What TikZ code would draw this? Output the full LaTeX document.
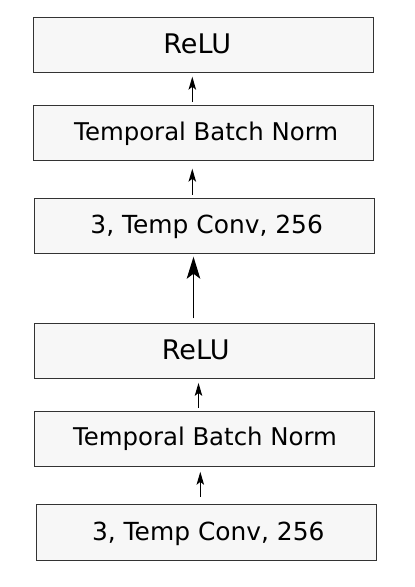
\documentclass[tikz,border=0pt]{standalone}
\usepackage{fontspec}
\setmainfont{DejaVu Sans}
\usetikzlibrary{arrows.meta}
\tikzset{
  layerbox/.style={draw=black!80, fill=black!3, line width=1pt},
  boxnode/.style={inner sep=0pt},
  lbl/.style={anchor=base, inner sep=0pt},
  smallarr/.style={line width=1pt, -{Stealth[length=13pt,width=7.5pt,inset=3pt]}},
  bigarr/.style={line width=1.3pt, -{Stealth[length=22pt,width=13.5pt,inset=5pt]}},
}
\begin{document}
\begin{tikzpicture}[x=1pt,y=-1pt]
\useasboundingbox (0,0) rectangle (415,587);
% boxes
\node[boxnode, minimum width=340pt, minimum height=54.3pt] (b1) at (203.3,44.85) {};
\node[boxnode, minimum width=340pt, minimum height=54.7pt] (b2) at (203.3,132.65) {};
\node[boxnode, minimum width=339.3pt, minimum height=54.3pt] (b3) at (204.65,226.15) {};
\node[boxnode, minimum width=339.3pt, minimum height=54.7pt] (b4) at (204.65,351.35) {};
\node[boxnode, minimum width=339.3pt, minimum height=54.6pt] (b5) at (204.65,439) {};
\node[boxnode, minimum width=340pt, minimum height=55pt] (b6) at (206.3,532.5) {};
\foreach \b in {b1,b2,b3,b4,b5,b6}{
  \draw[layerbox] (\b.north west) rectangle (\b.south east);
}
% labels
\node[lbl, font=\fontsize{27}{32}\selectfont] (t1) at (197.2,53.3) {ReLU};
\node[lbl, font=\fontsize{24.4}{29}\selectfont] (t2) at (206.2,140.7) {Temporal Batch Norm};
\node[lbl, font=\fontsize{24.9}{29}\selectfont] (t3) at (206.7,233.3) {3, Temp Conv, 256};
\node[lbl, font=\fontsize{27}{32}\selectfont] (t4) at (195.7,359.3) {ReLU};
\node[lbl, font=\fontsize{24.4}{29}\selectfont] (t5) at (205,445) {Temporal Batch Norm};
\node[lbl, font=\fontsize{24.9}{29}\selectfont] (t6) at (208.3,540) {3, Temp Conv, 256};
% arrow x positions
\coordinate (x1) at (192.3,0);
\coordinate (x2) at (192.3,0);
\coordinate (x3) at (193.5,0);
\coordinate (x4) at (198.5,0);
\coordinate (x5) at (200.3,0);
% arrows
\draw[smallarr, shorten <=3pt, shorten >=4.5pt] (b2.north -| x1) -- (b1.south -| x1);
\draw[smallarr, shorten <=4pt, shorten >=8.5pt] (b3.north -| x2) -- (b2.south -| x2);
\draw[bigarr, shorten <=5.5pt, shorten >=3.2pt] (b4.north -| x3) -- (b3.south -| x3);
\draw[smallarr, shorten <=3.3pt, shorten >=4pt] (b5.north -| x4) -- (b4.south -| x4);
\draw[smallarr, shorten <=8.3pt, shorten >=5.3pt] (b6.north -| x5) -- (b5.south -| x5);
\end{tikzpicture}
\end{document}
